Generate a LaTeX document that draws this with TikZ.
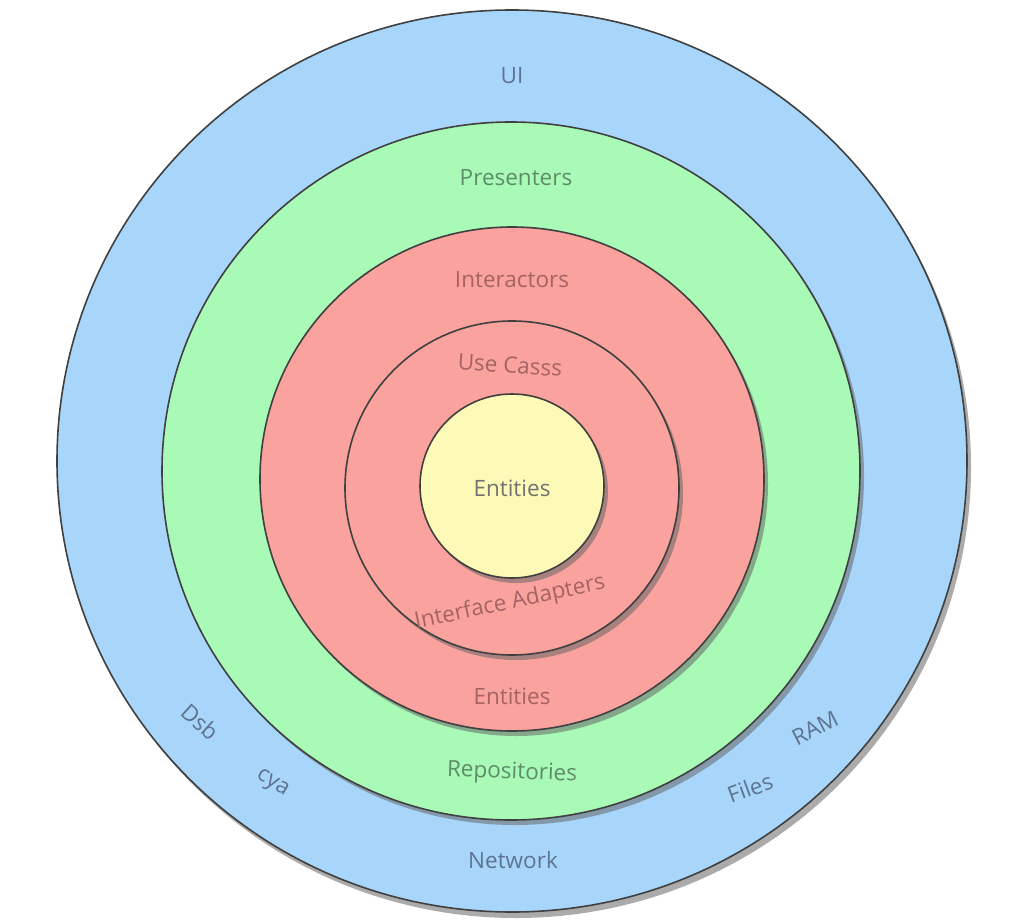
\documentclass[tikz,border=0pt]{standalone}
\usepackage{fontspec}
\setmainfont{Open Sans}
\definecolor{cblue}{RGB}{168,214,250}
\definecolor{cgreen}{RGB}{168,250,182}
\definecolor{cred}{RGB}{250,162,157}
\definecolor{cyel}{RGB}{252,250,182}
\definecolor{tblue}{RGB}{95,115,145}
\definecolor{tgreen}{RGB}{95,140,105}
\definecolor{tred}{RGB}{165,100,100}
\begin{document}
\begin{tikzpicture}[x=1pt,y=-1pt,
 ring/.style={draw=black!75,line width=1.6pt},
 shad/.style={fill=black!60,opacity=0.55},
 lbl/.style={font=\fontsize{22.5}{26}\selectfont}]
\useasboundingbox (0,0) rectangle (1024,920);
\fill[white] (0,0) rectangle (1024,920);
\fill[shad] (516,467) ellipse (455 and 451);
\filldraw[ring,fill=cblue] (512,461) ellipse (455 and 451);
\fill[shad] (515,476) circle (349);
\filldraw[ring,fill=cgreen] (511,471) circle (349);
\fill[shad] (516,484) circle (252);
\filldraw[ring,fill=cred] (512,479) circle (252);
\fill[shad] (516,493) circle (167);
\filldraw[ring,fill=cred] (512,488) circle (167);
\fill[shad] (516,491) circle (92);
\filldraw[ring,fill=cyel] (512,486) circle (92);
\begin{scope}[lbl]
\node[text=tblue] (ui) at (512,76) {UI};
\node[text=tgreen] (pr) at (516,178) {Presenters};
\node[text=tred] (ia) at (512,280) {Interactors};
\node[text=tred,rotate=-4] (uc) at (510,365) {Use Casss};
\node[text=black!55] (en) at (512,488) {Entities};
\node[text=tred,rotate=12] (ad) at (510,603) {Interface Adapters};
\node[text=tred] (en2) at (512,696) {Entities};
\node[text=tgreen,rotate=-2] (re) at (512,773) {Repositories};
\node[text=tblue] (nw) at (513,860) {Network};
\node[text=tblue,rotate=-42,inner sep=0pt] (ds) at (200,722) {Dsb};
\node[text=tblue,rotate=-32,inner sep=0pt] (cy) at (272,784) {cya};
\node[text=tblue,rotate=20] (fi) at (750,788) {Files};
\node[text=tblue,rotate=27] (ra) at (815,728) {RAM};
\end{scope}
\end{tikzpicture}
\end{document}
